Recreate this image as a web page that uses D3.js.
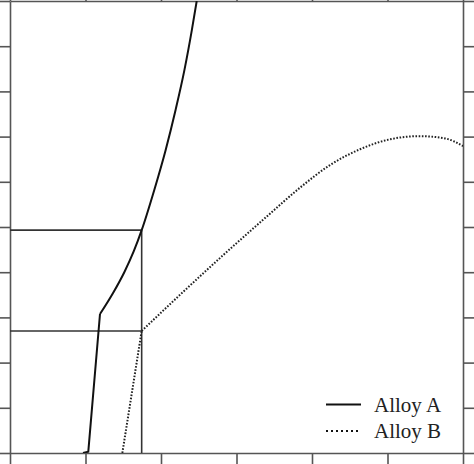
<!DOCTYPE html>
<html>
<head>
    <meta charset="UTF-8">
    <title>Alloy A vs Alloy B</title>
    <style>
        body { margin: 0; background: #fff; }
        .frame path, .frame line { stroke: #555; stroke-width: 1.6px; }
        .legend-text { font: 21px "Liberation Serif", "Times New Roman", serif; fill: #222; }
    </style>
    <script src="https://d3js.org/d3.v7.min.js"></script>
</head>
<body>
<div id="chart"></div>
<script>
    // tick positions (no labels are visible in the crop)
    const xTicks = [0, 1, 2, 3, 4, 5, 6];
    const yTicks = [0, 1, 2, 3, 4, 5, 6, 7, 8, 9, 10];

    // Alloy A: straight start, then a rising curve
    const alloyAStart = [[0.967, 0], [1.037, 0.03], [1.192, 3.075]];
    const alloyACurve = [[1.192, 3.075], [1.365, 3.54], [1.514, 4.00], [1.641, 4.47], [1.744, 4.93],
                         [1.911, 5.82], [2.061, 6.70], [2.193, 7.59], [2.310, 8.47], [2.409, 9.36], [2.473, 10.0]];

    // Alloy B: straight start, then a curve that peaks and turns down
    const alloyBStart = [[1.488, 0], [1.744, 2.70]];
    const alloyBCurve = [[1.744, 2.70], [2.252, 3.50], [2.825, 4.38], [3.400, 5.23], [3.841, 5.87],
                         [4.238, 6.37], [4.636, 6.72], [5.033, 6.94], [5.430, 7.01], [5.762, 6.96], [6.0, 6.79]];

    const markX = 1.744;
    const markYs = [4.93, 2.70];

    const legendItems = ["Alloy A", "Alloy B"];

    const W = 474, H = 464;
    const padL = 10, padR = 463, padT = 1, padB = 453;

    const svg = d3.select("#chart").append("svg")
        .attr("width", W)
        .attr("height", H);

    const x = d3.scaleLinear().domain([0, 6]).range([padL, padR]);
    const y = d3.scaleLinear().domain([0, 10]).range([padB, padT]);

    svg.append("defs").append("clipPath").attr("id", "plot")
        .append("rect")
        .attr("x", padL).attr("y", padT)
        .attr("width", padR - padL).attr("height", padB - padT);

    // frame with outward ticks on all four sides
    const frame = svg.append("g").attr("class", "frame");
    frame.append("g")
        .attr("transform", `translate(0,${padB})`)
        .call(d3.axisBottom(x).tickValues(xTicks).tickSize(11).tickSizeOuter(0).tickFormat(""));
    frame.append("g")
        .attr("transform", `translate(0,${padT})`)
        .call(d3.axisTop(x).tickValues(xTicks).tickSize(11).tickSizeOuter(0).tickFormat(""));
    frame.append("g")
        .attr("transform", `translate(${padL},0)`)
        .call(d3.axisLeft(y).tickValues(yTicks).tickSize(11).tickSizeOuter(0).tickFormat(""));
    frame.append("g")
        .attr("transform", `translate(${padR},0)`)
        .call(d3.axisRight(y).tickValues(yTicks).tickSize(11).tickSizeOuter(0).tickFormat(""));

    // reference lines
    const refs = svg.append("g")
        .attr("stroke", "#333")
        .attr("stroke-width", 1.6);
    markYs.forEach(v => {
        refs.append("line")
            .attr("x1", x(0)).attr("x2", x(markX))
            .attr("y1", y(v)).attr("y2", y(v));
    });
    refs.append("line")
        .attr("x1", x(markX)).attr("x2", x(markX))
        .attr("y1", y(0)).attr("y2", y(d3.max(markYs)));

    // curves
    const straight = d3.line().x(d => x(d[0])).y(d => y(d[1]));
    const smooth = d3.line().x(d => x(d[0])).y(d => y(d[1])).curve(d3.curveMonotoneX);

    const plot = svg.append("g").attr("clip-path", "url(#plot)");
    plot.append("path").datum(alloyAStart)
        .attr("d", straight)
        .attr("fill", "none").attr("stroke", "#111").attr("stroke-width", 2);
    plot.append("path").datum(alloyACurve)
        .attr("d", smooth)
        .attr("fill", "none").attr("stroke", "#111").attr("stroke-width", 2);
    plot.append("path").datum(alloyBStart)
        .attr("d", straight)
        .attr("fill", "none").attr("stroke", "#222").attr("stroke-width", 2)
        .attr("stroke-dasharray", "1.6,1.6");
    plot.append("path").datum(alloyBCurve)
        .attr("d", smooth)
        .attr("fill", "none").attr("stroke", "#222").attr("stroke-width", 2)
        .attr("stroke-dasharray", "1.6,1.6");

    // legend
    const legend = svg.append("g");
    legendItems.forEach((name, i) => {
        const ly = 404.5 + i * 26.5;
        legend.append("line")
            .attr("x1", 326).attr("x2", 361)
            .attr("y1", ly).attr("y2", ly)
            .attr("stroke", "#111")
            .attr("stroke-width", i === 0 ? 2.2 : 2)
            .attr("stroke-dasharray", i === 0 ? null : "2,3");
        legend.append("text")
            .attr("class", "legend-text")
            .attr("x", 374)
            .attr("y", ly + 7)
            .text(name);
    });
</script>
</body>
</html>
